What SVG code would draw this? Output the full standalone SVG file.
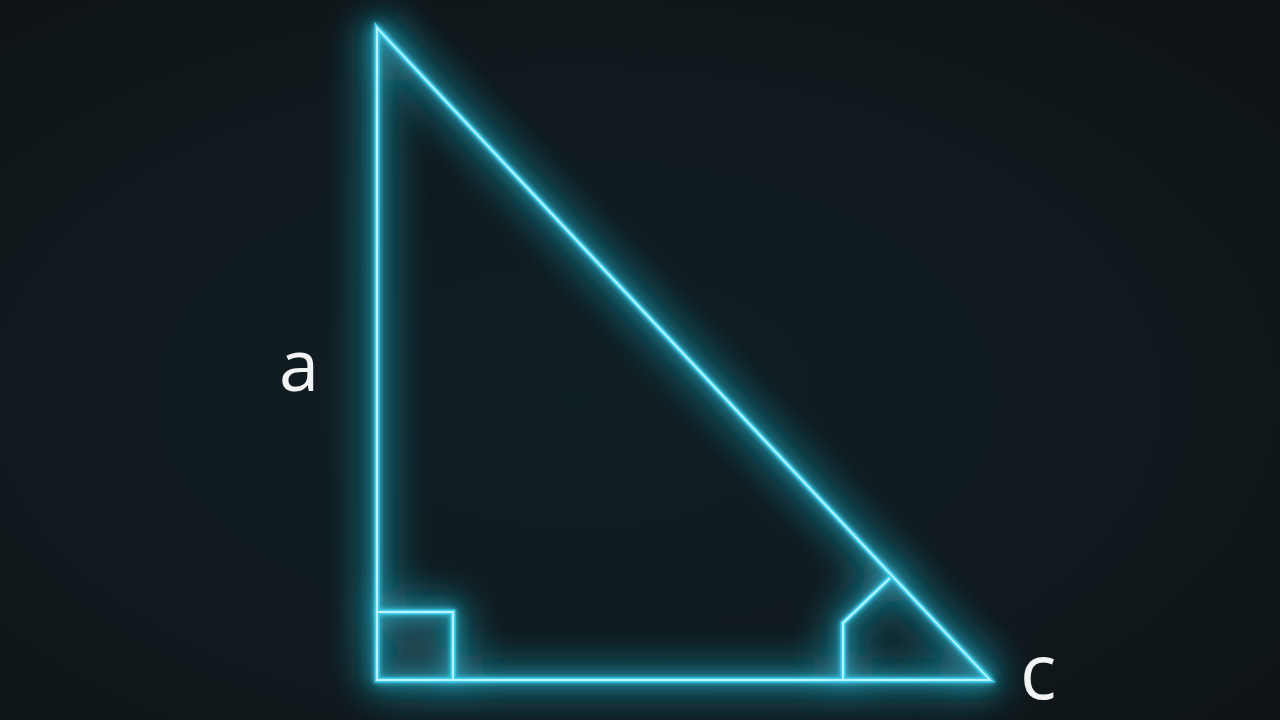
<svg xmlns="http://www.w3.org/2000/svg" width="1280" height="720" viewBox="0 0 1280 720">
<defs>
<radialGradient id="bg" cx="0.45" cy="0.55" r="0.75">
<stop offset="0" stop-color="#0f1e23"/>
<stop offset="0.6" stop-color="#10191d"/>
<stop offset="1" stop-color="#0d1214"/>
</radialGradient>
<filter id="glow" x="-20%" y="-20%" width="140%" height="140%">
<feGaussianBlur in="SourceGraphic" stdDeviation="22" result="b0"/>
<feGaussianBlur in="SourceGraphic" stdDeviation="8" result="b1"/>
<feGaussianBlur in="SourceGraphic" stdDeviation="2.5" result="b2"/>
<feMerge><feMergeNode in="b0"/><feMergeNode in="b0"/><feMergeNode in="b0"/><feMergeNode in="b1"/><feMergeNode in="b2"/><feMergeNode in="SourceGraphic"/></feMerge>
</filter>
<style>
.edge{fill:none;stroke:#3fd0ee;stroke-width:5;stroke-linejoin:miter;stroke-linecap:square}
.core{fill:none;stroke:#bff4ff;stroke-width:1.8;stroke-linejoin:miter}
.lbl{font-family:"Open Sans","Noto Sans",sans-serif;fill:#f2f4f4}
</style>
</defs>
<rect width="1280" height="720" fill="url(#bg)"/>
<g id="connectors" filter="url(#glow)">
<polygon class="edge" points="377,28 377,680 990,680"/>
<polyline class="edge" points="377,612 453,612 453,680"/>
<polyline class="edge" points="843,680 843,623 890,578"/>
</g>
<g id="core">
<polygon class="core" points="377,28 377,680 990,680"/>
<polyline class="core" points="377,612 453,612 453,680"/>
<polyline class="core" points="843,680 843,623 890,578"/>
</g>
<g id="label-a"><text class="lbl" x="279" y="391" font-size="72">a</text></g>
<g id="label-c"><text class="lbl" x="1020" y="699" font-size="76">c</text></g>
</svg>
